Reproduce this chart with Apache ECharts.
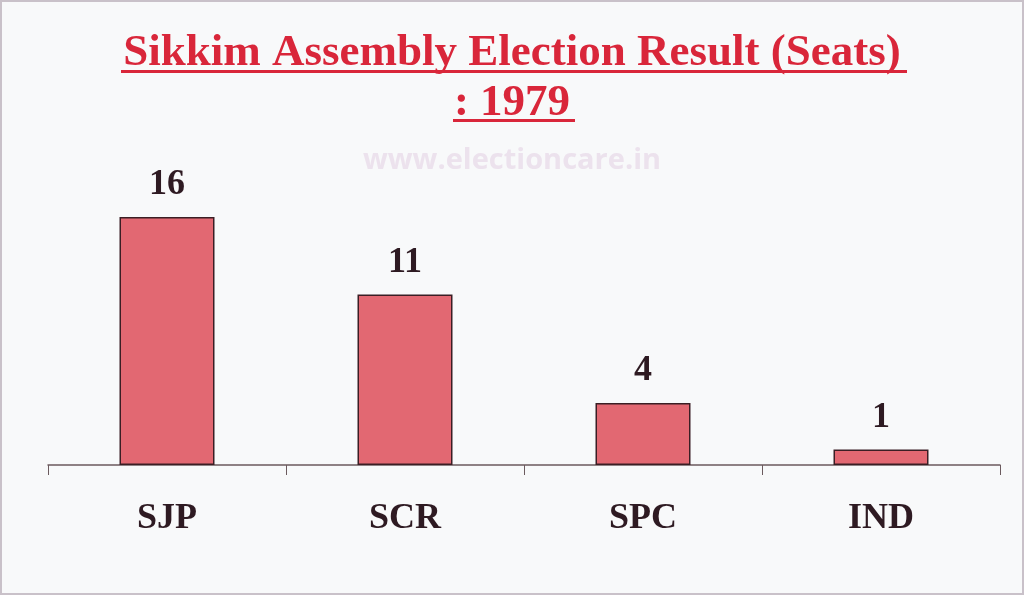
<!DOCTYPE html>
<html>
<head>
<meta charset="utf-8">
<script src="https://cdn.jsdelivr.net/npm/echarts@6/dist/echarts.min.js"></script>
<style>
  html, body { margin: 0; padding: 0; background: #f8f9fa; }
  #main { width: 1024px; height: 595px; box-sizing: border-box; border: 2px solid #c9c1c9; }
</style>
</head>
<body>
<div id="main"></div>
<script>
const parties = ['SJP', 'SCR', 'SPC', 'IND'];
const seats = [16, 11, 4, 1];

const chart = echarts.init(document.getElementById('main'));
const serif = '"Liberation Serif", "DejaVu Serif", serif';
chart.setOption({
  backgroundColor: '#f8f9fa',
  animation: false,
  title: {
    text: 'Sikkim Assembly Election Result (Seats)\n: 1979',
    left: 'center',
    top: 21,
    textStyle: {
      fontFamily: serif, fontWeight: 'bold', fontSize: 45,
      color: '#d9263a', lineHeight: 50
    }
  },
  graphic: [
    { type: 'rect', shape: { x: 119, y: 68, width: 786, height: 3 }, style: { fill: '#d9263a' } },
    { type: 'rect', shape: { x: 451, y: 117, width: 122, height: 3 }, style: { fill: '#d9263a' } },
    { type: 'text', left: 'center', top: 144,
      style: { text: 'www.electioncare.in', font: 'bold 29px "Open Sans", sans-serif', fill: '#ece2ed' } }
  ],
  grid: { left: 46, right: 22, top: 215, bottom: 128 },
  xAxis: {
    type: 'category',
    data: parties,
    axisLine: { lineStyle: { color: '#6b5a5e', width: 1.5 } },
    axisTick: { show: true, length: 10, lineStyle: { color: '#6b5a5e' } },
    axisLabel: { margin: 36, fontFamily: serif, fontWeight: 'bold', fontSize: 36, color: '#2e1a22' }
  },
  yAxis: { type: 'value', min: 0, max: 16, show: false, splitLine: { show: false } },
  series: [{
    type: 'bar',
    data: seats,
    barWidth: 95,
    itemStyle: { color: '#e26872', borderColor: '#3a1e24', borderWidth: 1.5 },
    label: {
      show: true, position: 'top', distance: 14,
      fontFamily: serif, fontWeight: 'bold', fontSize: 36, color: '#2e1a22'
    }
  }]
});
</script>
</body>
</html>
